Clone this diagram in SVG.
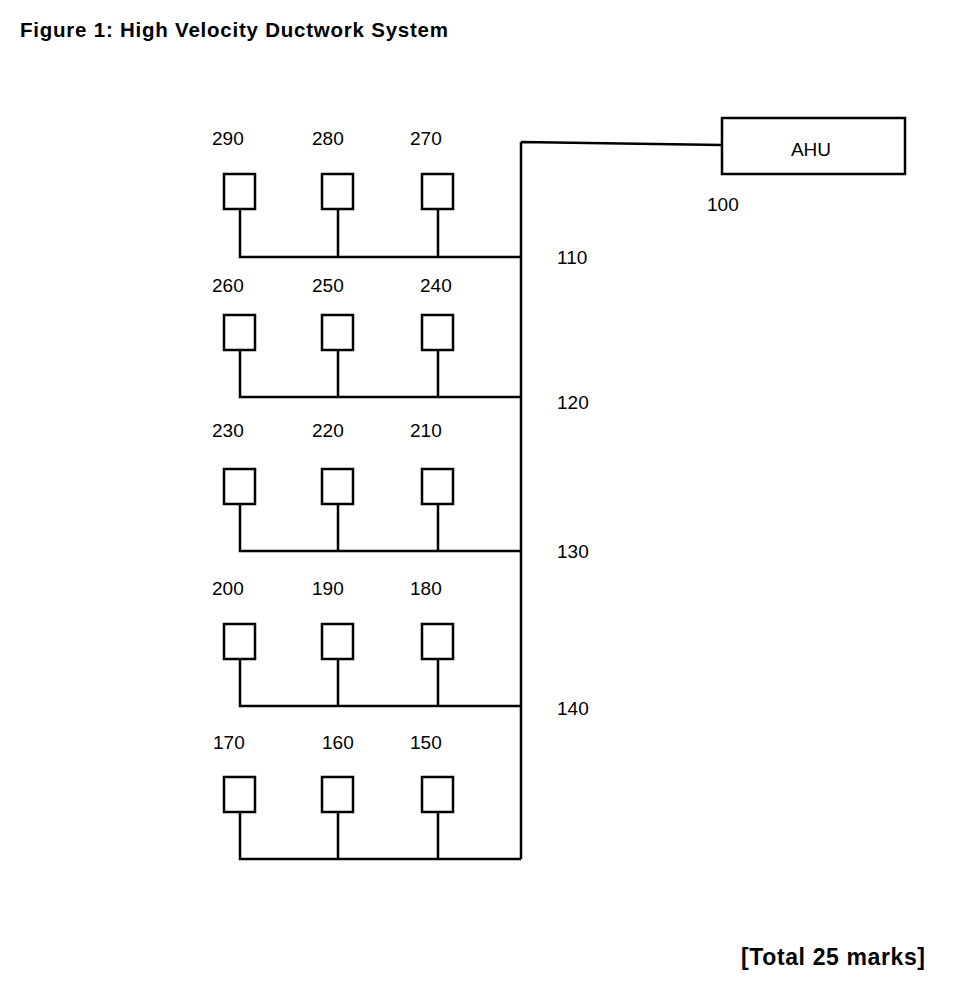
<svg xmlns="http://www.w3.org/2000/svg" width="954" height="996" viewBox="0 0 954 996">
<style>
text{font-family:"Liberation Sans",Arial,sans-serif;font-size:19px;fill:#000}
.b{font-weight:bold}
.box{fill:#fff;stroke:#000;stroke-width:2.5}
.ln{fill:none;stroke:#000;stroke-width:2.5}
</style>
<rect width="954" height="996" fill="#fff"/>
<text class="b" x="20" y="37" style="font-size:20.5px" textLength="428">Figure 1: High Velocity Ductwork System</text>
<text class="b" x="741" y="965" style="font-size:23px" textLength="184">[Total 25 marks]</text>
<g id="connectors">
<path class="ln" d="M521,142 L722,145 M521,142 L521,859"/>
<path class="ln" d="M240,209 V257 H521 M338,209 V257 M438,209 V257"/>
<path class="ln" d="M240,350 V397 H521 M338,350 V397 M438,350 V397"/>
<path class="ln" d="M240,504 V551 H521 M338,504 V551 M438,504 V551"/>
<path class="ln" d="M240,659 V706 H521 M338,659 V706 M438,659 V706"/>
<path class="ln" d="M240,812 V859 H521 M338,812 V859 M438,812 V859"/>
</g>
<g id="ahu"><rect class="box" x="722" y="118" width="183" height="56"/><text x="811" y="156" text-anchor="middle">AHU</text></g>
<text x="707" y="211">100</text>
<text x="557" y="264">110</text>
<text x="557" y="409">120</text>
<text x="557" y="558">130</text>
<text x="557" y="715">140</text>
<g id="t290"><rect class="box" x="224" y="174" width="31" height="35"/><text x="212" y="145">290</text></g>
<g id="t280"><rect class="box" x="322" y="174" width="31" height="35"/><text x="312" y="145">280</text></g>
<g id="t270"><rect class="box" x="422" y="174" width="31" height="35"/><text x="410" y="145">270</text></g>
<g id="t260"><rect class="box" x="224" y="315" width="31" height="35"/><text x="212" y="292">260</text></g>
<g id="t250"><rect class="box" x="322" y="315" width="31" height="35"/><text x="312" y="292">250</text></g>
<g id="t240"><rect class="box" x="422" y="315" width="31" height="35"/><text x="420" y="292">240</text></g>
<g id="t230"><rect class="box" x="224" y="469" width="31" height="35"/><text x="212" y="437">230</text></g>
<g id="t220"><rect class="box" x="322" y="469" width="31" height="35"/><text x="312" y="437">220</text></g>
<g id="t210"><rect class="box" x="422" y="469" width="31" height="35"/><text x="410" y="437">210</text></g>
<g id="t200"><rect class="box" x="224" y="624" width="31" height="35"/><text x="212" y="595">200</text></g>
<g id="t190"><rect class="box" x="322" y="624" width="31" height="35"/><text x="312" y="595">190</text></g>
<g id="t180"><rect class="box" x="422" y="624" width="31" height="35"/><text x="410" y="595">180</text></g>
<g id="t170"><rect class="box" x="224" y="777" width="31" height="35"/><text x="213" y="749">170</text></g>
<g id="t160"><rect class="box" x="322" y="777" width="31" height="35"/><text x="322" y="749">160</text></g>
<g id="t150"><rect class="box" x="422" y="777" width="31" height="35"/><text x="410" y="749">150</text></g>
</svg>
